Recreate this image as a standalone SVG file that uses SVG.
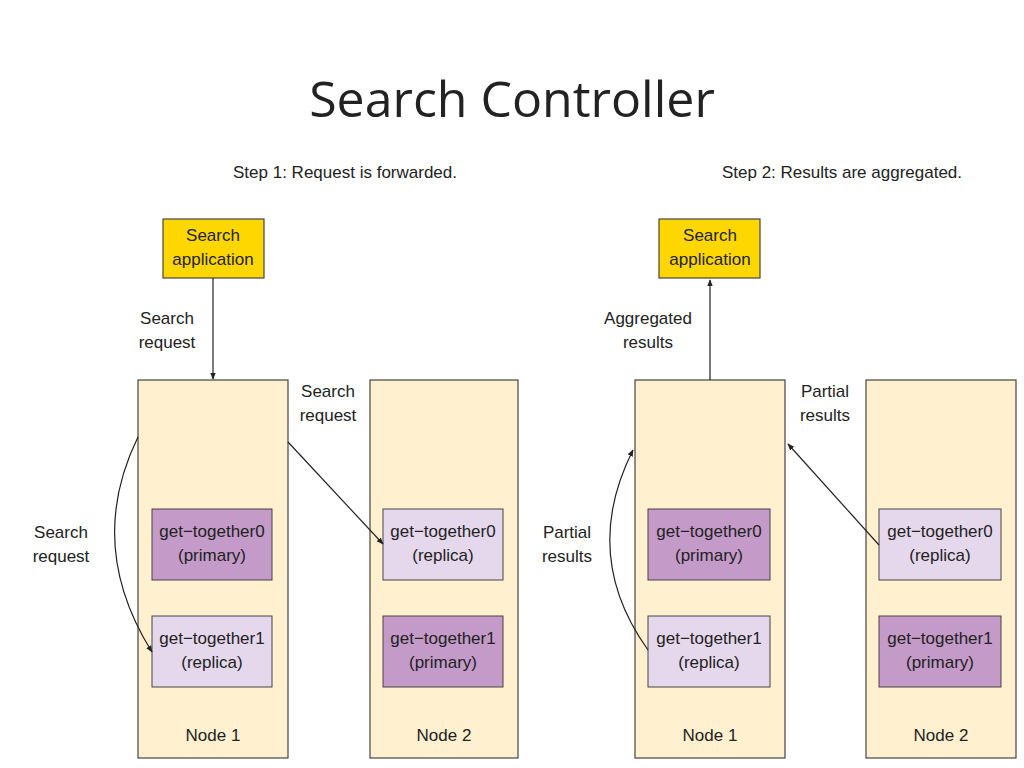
<svg xmlns="http://www.w3.org/2000/svg" width="1024" height="768" viewBox="0 0 1024 768">
<defs>
<marker id="ah" viewBox="0 0 10 10" refX="9" refY="5" markerWidth="7" markerHeight="7" orient="auto" markerUnits="userSpaceOnUse"><path d="M0,1 L10,5 L0,9 z" fill="#222"/></marker>
</defs>
<style>
text{font-family:"Liberation Sans",Arial,sans-serif;fill:#222;text-anchor:middle}
.t{font-size:17px}
.node{fill:#fff0d0;stroke:#444;stroke-width:1.2}
.app{fill:#ffd700;stroke:#444;stroke-width:1.2}
.pri{fill:#c49ac8;stroke:#444;stroke-width:1}
.rep{fill:#e5d8ec;stroke:#444;stroke-width:1}
.c{fill:none;stroke:#222;stroke-width:1.2;marker-end:url(#ah)}
</style>
<rect width="1024" height="768" fill="#fff"/>
<text x="512" y="117" style="font-family:'Open Sans','Liberation Sans',sans-serif;font-size:50px" fill="#000">Search Controller</text>
<text class="t" x="345" y="178">Step 1: Request is forwarded.</text>
<text class="t" x="842" y="178">Step 2: Results are aggregated.</text>

<g id="app1"><rect class="app" x="163" y="219" width="101" height="59"/><text class="t" x="213" y="241">Search</text><text class="t" x="213" y="265">application</text></g>
<g id="node1a"><rect class="node" x="138" y="380" width="150" height="378"/><text class="t" x="213" y="741">Node 1</text></g>
<g id="node2a"><rect class="node" x="370" y="380" width="148" height="378"/><text class="t" x="444" y="741">Node 2</text></g>
<g id="s1a"><rect class="pri" x="152" y="509" width="120" height="71"/><text class="t" x="212" y="537">get−together0</text><text class="t" x="212" y="561">(primary)</text></g>
<g id="s2a"><rect class="rep" x="152" y="616" width="120" height="71"/><text class="t" x="212" y="644">get−together1</text><text class="t" x="212" y="668">(replica)</text></g>
<g id="s3a"><rect class="rep" x="383" y="509" width="120" height="71"/><text class="t" x="443" y="537">get−together0</text><text class="t" x="443" y="561">(replica)</text></g>
<g id="s4a"><rect class="pri" x="383" y="616" width="120" height="71"/><text class="t" x="443" y="644">get−together1</text><text class="t" x="443" y="668">(primary)</text></g>

<g id="app2"><rect class="app" x="659" y="219" width="101" height="59"/><text class="t" x="710" y="241">Search</text><text class="t" x="710" y="265">application</text></g>
<g id="node1b"><rect class="node" x="635" y="380" width="150" height="378"/><text class="t" x="710" y="741">Node 1</text></g>
<g id="node2b"><rect class="node" x="866" y="380" width="150" height="378"/><text class="t" x="941" y="741">Node 2</text></g>
<g id="s1b"><rect class="pri" x="648" y="509" width="122" height="71"/><text class="t" x="709" y="537">get−together0</text><text class="t" x="709" y="561">(primary)</text></g>
<g id="s2b"><rect class="rep" x="648" y="616" width="122" height="71"/><text class="t" x="709" y="644">get−together1</text><text class="t" x="709" y="668">(replica)</text></g>
<g id="s3b"><rect class="rep" x="879" y="509" width="122" height="71"/><text class="t" x="940" y="537">get−together0</text><text class="t" x="940" y="561">(replica)</text></g>
<g id="s4b"><rect class="pri" x="879" y="616" width="122" height="71"/><text class="t" x="940" y="644">get−together1</text><text class="t" x="940" y="668">(primary)</text></g>

<g id="connectors">
<line class="c" x1="213" y1="278" x2="213" y2="379"/>
<path class="c" d="M138,437 Q85,545 152,652"/>
<line class="c" x1="288" y1="442" x2="383" y2="544"/>
<line class="c" x1="710" y1="380" x2="710" y2="280"/>
<path class="c" d="M648,650 Q580,555 633,450"/>
<line class="c" x1="879" y1="545" x2="788" y2="444"/>
</g>
<g id="labels">
<text class="t" x="167" y="324">Search</text><text class="t" x="167" y="348">request</text>
<text class="t" x="328" y="397">Search</text><text class="t" x="328" y="421">request</text>
<text class="t" x="61" y="538">Search</text><text class="t" x="61" y="562">request</text>
<text class="t" x="648" y="324">Aggregated</text><text class="t" x="648" y="348">results</text>
<text class="t" x="825" y="397">Partial</text><text class="t" x="825" y="421">results</text>
<text class="t" x="567" y="538">Partial</text><text class="t" x="567" y="562">results</text>
</g>
</svg>
